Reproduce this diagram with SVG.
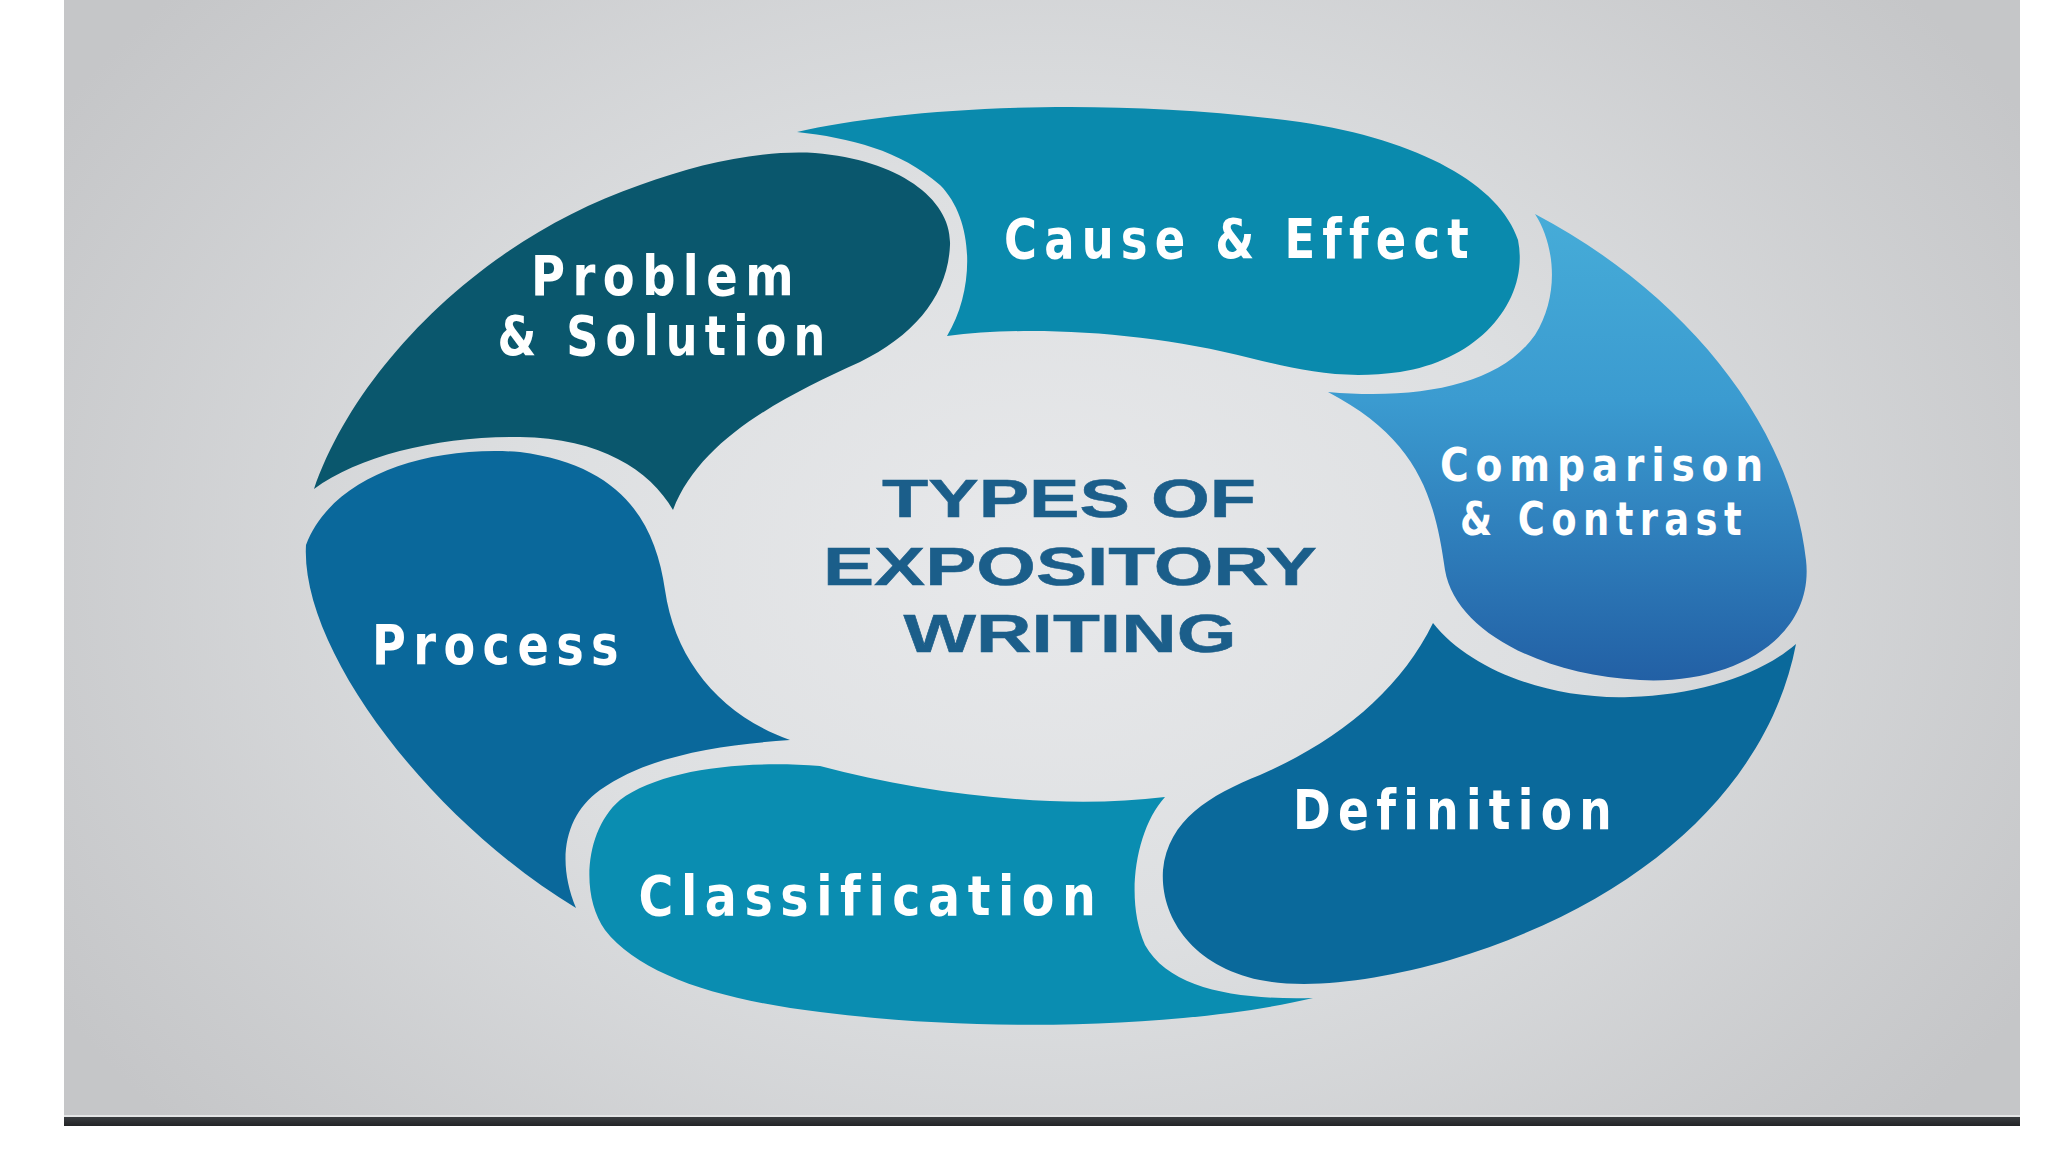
<svg xmlns="http://www.w3.org/2000/svg" width="2048" height="1152" viewBox="0 0 2048 1152">
  <defs>
    <radialGradient id="bg" cx="1040" cy="560" r="1150" gradientUnits="userSpaceOnUse" gradientTransform="translate(1040 560) scale(1 0.75) translate(-1040 -560)">
      <stop offset="0" stop-color="#e8e9eb"/>
      <stop offset="0.45" stop-color="#dddfe1"/>
      <stop offset="1" stop-color="#c5c6c8"/>
    </radialGradient>
    <linearGradient id="cmpGrad" x1="0" y1="0" x2="0" y2="1">
      <stop offset="0" stop-color="#46acd8"/>
      <stop offset="0.4" stop-color="#3b9bd0"/>
      <stop offset="1" stop-color="#2260a5"/>
    </linearGradient>
    <linearGradient id="barGrad" x1="0" y1="0" x2="0" y2="1">
      <stop offset="0" stop-color="#3a3d40"/>
      <stop offset="1" stop-color="#222426"/>
    </linearGradient>
    <style>
      .lbl { font-family: "DejaVu Sans", "Liberation Sans", sans-serif; font-weight: bold; fill: #ffffff; text-anchor: middle; font-size: 56px; letter-spacing: 9px; }
      .sm { font-size: 46px; letter-spacing: 8px; }
      .ctr { font-family: "Liberation Sans", Arial, sans-serif; font-weight: bold; fill: #1b5e8a; stroke: #1b5e8a; stroke-width: 0.5; text-anchor: middle; font-size: 54px; }
    </style>
  </defs>

  <rect x="0" y="0" width="2048" height="1152" fill="#ffffff"/>
  <rect x="64" y="0" width="1956" height="1117" fill="url(#bg)"/>
  <rect x="64" y="1115" width="1956" height="2" fill="#e4e5e6"/>
  <rect x="64" y="1117" width="1956" height="9" fill="url(#barGrad)"/>

  <g id="node-problem-solution">
    <path fill="#0a576d" d="M 314,489 C 355,370 480,240 640,185 C 700,163 760,150 815,153 C 900,160 952,200 950,245 C 948,295 915,335 860,362 C 780,398 700,440 673,510 C 650,470 600,438 520,437 C 440,436 360,455 314,489 Z"/>
    <text class="lbl" x="666" y="295" textLength="270" lengthAdjust="spacingAndGlyphs">Problem</text>
    <text class="lbl" x="665" y="355" textLength="335" lengthAdjust="spacingAndGlyphs">&amp; Solution</text>
  </g>

  <g id="node-cause-effect">
    <path fill="#0a8aad" d="M 797,132 C 900,108 1100,95 1300,122 C 1420,140 1500,185 1518,240 C 1530,300 1480,360 1400,372 C 1340,380 1300,370 1250,358 C 1150,332 1030,325 947,336 C 975,290 975,220 940,185 C 900,150 850,138 797,132 Z"/>
    <text class="lbl" x="1240" y="258" textLength="472" lengthAdjust="spacingAndGlyphs">Cause &amp; Effect</text>
  </g>

  <g id="node-comparison-contrast">
    <path fill="url(#cmpGrad)" d="M 1535,214 C 1680,290 1790,420 1806,560 C 1815,640 1730,685 1640,680 C 1540,675 1455,630 1445,570 C 1435,500 1420,440 1328,392 C 1420,400 1500,385 1535,335 C 1560,295 1555,245 1535,214 Z"/>
    <text class="lbl sm" x="1605" y="481" textLength="330" lengthAdjust="spacingAndGlyphs">Comparison</text>
    <text class="lbl sm" x="1604" y="535" textLength="288" lengthAdjust="spacingAndGlyphs">&amp; Contrast</text>
  </g>

  <g id="node-definition">
    <path fill="#0a699b" d="M 1433,623 C 1470,670 1550,700 1630,697 C 1700,695 1760,675 1796,644 C 1770,780 1650,900 1450,960 C 1380,980 1310,990 1260,980 C 1190,965 1160,915 1163,870 C 1168,820 1210,795 1260,775 C 1340,740 1400,690 1433,623 Z"/>
    <text class="lbl" x="1456" y="829" textLength="326" lengthAdjust="spacingAndGlyphs">Definition</text>
  </g>

  <g id="node-classification">
    <path fill="#0a8db1" d="M 1165,797 C 1135,830 1125,900 1145,945 C 1170,990 1240,1000 1313,998 C 1200,1025 1000,1035 820,1012 C 720,1000 640,975 605,930 C 580,895 585,830 620,800 C 660,770 740,760 820,766 C 930,795 1060,810 1165,797 Z"/>
    <text class="lbl" x="871" y="915" textLength="465" lengthAdjust="spacingAndGlyphs">Classification</text>
  </g>

  <g id="node-process">
    <path fill="#0a689b" d="M 576,908 C 556,860 565,815 600,790 C 650,755 720,745 790,740 C 720,715 675,660 665,590 C 655,520 620,465 520,452 C 420,445 330,480 306,545 C 300,650 430,820 576,908 Z"/>
    <text class="lbl" x="499" y="664" textLength="254" lengthAdjust="spacingAndGlyphs">Process</text>
  </g>

  <g id="node-center">
    <text class="ctr" x="1069" y="517" textLength="374" lengthAdjust="spacingAndGlyphs">TYPES OF</text>
    <text class="ctr" x="1070" y="585" textLength="494" lengthAdjust="spacingAndGlyphs">EXPOSITORY</text>
    <text class="ctr" x="1070" y="652" textLength="333" lengthAdjust="spacingAndGlyphs">WRITING</text>
  </g>
</svg>
